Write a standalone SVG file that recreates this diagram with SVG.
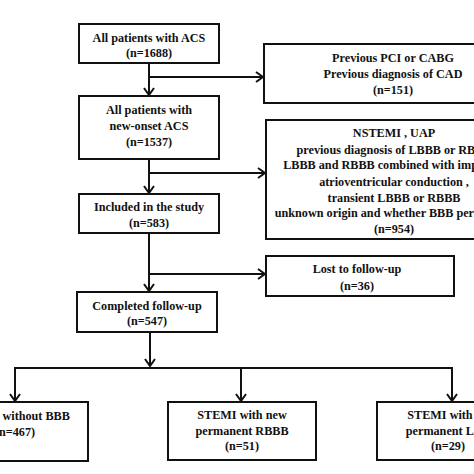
<svg xmlns="http://www.w3.org/2000/svg" width="474" height="474" viewBox="0 0 474 474">
<style>
.box{fill:#fff;stroke:#111;stroke-width:2}
.ln{fill:none;stroke:#111;stroke-width:2}
text{font-family:"Liberation Serif","Times New Roman",serif;font-weight:bold;font-size:12.2px;fill:#111;text-anchor:middle}
</style>
<defs>
<marker id="ah" markerWidth="10" markerHeight="12" refX="8" refY="6" orient="auto" markerUnits="userSpaceOnUse">
<path d="M1,1 L8,6 L1,11" fill="none" stroke="#111" stroke-width="2"/>
</marker>
</defs>
<rect width="474" height="474" fill="#fff"/>
<g id="connectors">
<path class="ln" d="M149,63 V95" marker-end="url(#ah)"/>
<path class="ln" d="M149,77 H263" marker-end="url(#ah)"/>
<path class="ln" d="M149,159 V193" marker-end="url(#ah)"/>
<path class="ln" d="M149,173 H265" marker-end="url(#ah)"/>
<path class="ln" d="M149,233 V291" marker-end="url(#ah)"/>
<path class="ln" d="M149,274 H265" marker-end="url(#ah)"/>
<path class="ln" d="M150,332 V366" marker-end="url(#ah)"/>
<path class="ln" d="M15,401 V368 H452 V401" marker-end="url(#ah)"/>
<path class="ln" d="M15,368 V401" marker-end="url(#ah)"/>
<path class="ln" d="M241,368 V401" marker-end="url(#ah)"/>
</g>
<g id="n1">
<rect class="box" x="79" y="24" width="140" height="39"/>
<text x="149" y="42">All patients with ACS</text>
<text x="149" y="57">(n=1688)</text>
</g>
<g id="n2">
<rect class="box" x="264" y="44" width="220" height="59"/>
<text x="393" y="62">Previous PCI or CABG</text>
<text x="393" y="78">Previous diagnosis of CAD</text>
<text x="393" y="94">(n=151)</text>
</g>
<g id="n3">
<rect class="box" x="79" y="96" width="140" height="63"/>
<text x="149" y="114">All patients with</text>
<text x="149" y="130">new-onset ACS</text>
<text x="149" y="146">(n=1537)</text>
</g>
<g id="n4">
<rect class="box" x="266" y="120" width="220" height="119"/>
<text x="394" y="137">NSTEMI , UAP</text>
<text x="394" y="154">previous diagnosis of LBBB or RBBB</text>
<text x="394" y="169">LBBB and RBBB combined with impaired</text>
<text x="394" y="186">atrioventricular conduction ,</text>
<text x="394" y="202">transient LBBB or RBBB</text>
<text x="394" y="217">unknown origin and whether BBB permanent</text>
<text x="394" y="233">(n=954)</text>
</g>
<g id="n5">
<rect class="box" x="79" y="194" width="140" height="39"/>
<text x="149" y="211">Included in the study</text>
<text x="149" y="227">(n=583)</text>
</g>
<g id="n6">
<rect class="box" x="266" y="256" width="188" height="40"/>
<text x="357" y="273">Lost to follow-up</text>
<text x="357" y="290">(n=36)</text>
</g>
<g id="n7">
<rect class="box" x="77" y="292" width="140" height="40"/>
<text x="147" y="310">Completed follow-up</text>
<text x="147" y="325">(n=547)</text>
</g>
<g id="n8">
<rect class="box" x="-58" y="402" width="146" height="59"/>
<text x="15" y="420">STEMI without BBB</text>
<text x="15" y="436">(n=467)</text>
</g>
<g id="n9">
<rect class="box" x="168" y="402" width="148" height="58"/>
<text x="242" y="419">STEMI with new</text>
<text x="242" y="435">permanent RBBB</text>
<text x="242" y="450">(n=51)</text>
</g>
<g id="n10">
<rect class="box" x="377" y="402" width="150" height="58"/>
<text x="452" y="419">STEMI with new</text>
<text x="452" y="435">permanent LBBB</text>
<text x="448" y="450">(n=29)</text>
</g>
</svg>
